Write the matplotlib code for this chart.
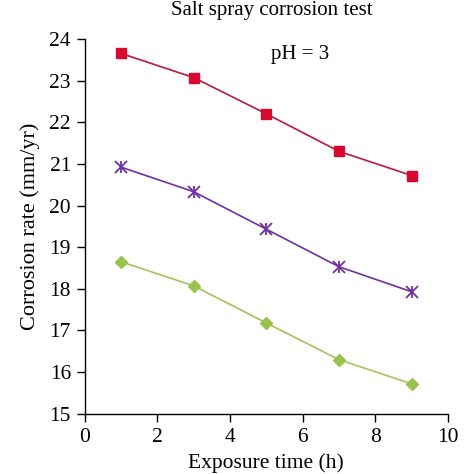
import matplotlib
matplotlib.use('Agg')
import matplotlib.pyplot as plt

# Gegevens uit de figuur
time_h = [1, 3, 5, 7, 9]
rate_red = [23.65, 23.07, 22.20, 21.30, 20.72]
rate_purple = [20.92, 20.33, 19.43, 18.53, 17.93]
rate_green = [18.65, 18.07, 17.18, 16.30, 15.72]

plt.rcParams['font.family'] = ['Liberation Serif', 'DejaVu Serif']

fig = plt.figure(figsize=(4.74, 4.74), dpi=100)
ax = fig.add_axes([0.179, 0.127, 0.766, 0.791])

ax.plot(time_h, rate_red, color='#c0163c', lw=1.2, marker='s', ms=7,
        mfc='#d8082f', mec='#d8082f')
ax.plot(time_h, rate_purple, color='#7030a0', lw=1.2, marker='x', ms=8,
        mew=1.3, mec='#7030a0')
ax.plot(time_h, rate_purple, ls='none', marker='|', ms=8, mew=1.3,
        mec='#7030a0')
ax.plot(time_h, rate_green, color='#a3c45a', lw=1.2, marker='D', ms=6,
        mfc='#99c24d', mec='#99c24d')

ax.set_xlim(0, 10)
ax.set_ylim(15, 24)
ax.set_xticks(range(0, 11, 2))
ax.set_yticks(range(15, 25))
for s in ['top', 'right']:
    ax.spines[s].set_visible(False)
for s in ['left', 'bottom']:
    ax.spines[s].set_linewidth(1.0)
ax.tick_params(direction='out', length=6, width=1.0, labelsize=15.5, pad=4)

ax.text(5.92, 23.62, 'pH = 3', fontsize=15, ha='center', va='center')
fig.text(0.574, 0.997, 'Salt spray corrosion test', fontsize=15,
         ha='center', va='top')
fig.text(0.561, 0.003, 'Exposure time (h)', fontsize=15.5,
         ha='center', va='bottom')
ax.set_ylabel('Corrosion rate (mm/yr)', fontsize=16, labelpad=7)

fig.savefig('out.png', dpi=100)
